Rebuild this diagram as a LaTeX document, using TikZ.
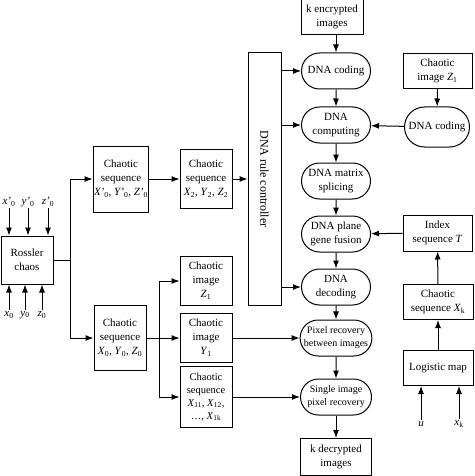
\documentclass[tikz,border=0pt]{standalone}
\usepackage{fontspec}
\setmainfont{Liberation Serif}
\usetikzlibrary{arrows.meta,shapes.misc}
\newcommand{\cv}[2]{\textit{#1}\textsubscript{#2}}
\begin{document}
\begin{tikzpicture}[x=1pt,y=-1pt,line width=1pt,
    font=\fontsize{11}{14}\selectfont]
  \useasboundingbox (0,0) rectangle (474,476);

  % plain boxes
  \begin{scope}[every node/.style={draw, align=center, inner sep=1pt}]
    \node[minimum width=52, minimum height=48] (ross) at (27,260) {Rossler\\chaos};
    \node[minimum width=52, minimum height=66] (seqA) at (121,179) {Chaotic\\sequence\\\cv{X'}{0}, \cv{Y'}{0}, \cv{Z'}{0}};
    \node[minimum width=52, minimum height=59] (seqA2) at (206,179) {Chaotic\\sequence\\\cv{X}{2}, \cv{Y}{2}, \cv{Z}{2}};
    \node[minimum width=33, minimum height=252, font=\fontsize{12}{14}\selectfont] (ctrl) at (264.5,179) {\rotatebox{-90}{DNA rule controller}};
    \node[minimum width=52, minimum height=65] (seqB) at (120,338) {Chaotic\\sequence\\\cv{X}{0}, \cv{Y}{0}, \cv{Z}{0}};
    \node[minimum width=52, minimum height=49] (imgZ) at (206,281) {Chaotic\\image\\\cv{Z}{1}};
    \node[minimum width=52, minimum height=49] (imgY) at (206,338) {Chaotic\\image\\\cv{Y}{1}};
    \node[minimum width=52, minimum height=61, font=\fontsize{10.5}{13}\selectfont] (seqX) at (206,397) {Chaotic\\sequence\\\cv{X}{11}, \cv{X}{12},\\\dots, \cv{X}{1k}};
    \node[minimum width=62, minimum height=35] (enc) at (332,17) {k encrypted\\images};
    \node[minimum width=71, minimum height=37] (dec) at (336,457) {k decrypted\\images};
    \node[minimum width=69, minimum height=35] (imgZr) at (437.5,71) {Chaotic\\image \cv{Z}{1}};
    \node[minimum width=69, minimum height=36] (idx) at (437.5,233) {Index\\sequence \textit{T}};
    \node[minimum width=70, minimum height=35] (seqXk) at (438,302) {Chaotic\\sequence \cv{X}{k}};
    \node[minimum width=70, minimum height=35] (logm) at (438,368) {Logistic map};
  \end{scope}

  % rounded steps
  \begin{scope}[every node/.style={draw, align=center, inner sep=1pt,
      rounded rectangle, minimum width=71, minimum height=36}]
    \node (dc1) at (336,71) {DNA coding};
    \node (dcomp) at (336,125) {DNA\\computing};
    \node (dms) at (336,181) {DNA matrix\\splicing};
    \node (dpf) at (336,234) {DNA plane\\gene fusion};
    \node (ddec) at (336,287) {DNA\\decoding};
    \node[font=\fontsize{10}{13}\selectfont, inner xsep=0pt] (pix) at (336,338) {Pixel recovery\\between images};
    \node[font=\fontsize{10}{13}\selectfont, inner xsep=0pt] (single) at (336,397) {Single image\\pixel recovery};
    \node[minimum width=67, minimum height=40] (dcr) at (437,127) {DNA coding};
  \end{scope}

  % inputs
  \begin{scope}[every node/.style={inner sep=1pt}]
    \node (lx1) at (9,202) {\cv{x'}{0}};
    \node (ly1) at (28,202) {\cv{y'}{0}};
    \node (lz1) at (48,202) {\cv{z'}{0}};
    \node (lx0) at (9,315) {\cv{x}{0}};
    \node (ly0) at (25,315) {\cv{y}{0}};
    \node (lz0) at (42,315) {\cv{z}{0}};
    \node (lu) at (421,424) {\textit{u}};
    \node (lxk) at (459,424) {\cv{x}{k}};
  \end{scope}

  \coordinate (br1) at (70,260);
  \coordinate (br2) at (159,338);

  \begin{scope}[every edge/.style={draw, -{Latex[length=8pt,width=6pt]}}]
    \path (lx1) edge (lx1 |- ross.north);
    \path (ly1) edge (ly1 |- ross.north);
    \path (lz1) edge (lz1 |- ross.north);
    \path (lx0) edge (lx0 |- ross.south);
    \path (ly0) edge (ly0 |- ross.south);
    \path (lz0) edge (lz0 |- ross.south);
    \draw (ross) -- (br1);
    \path (br1 |- seqA) edge (seqA);
    \path (br1 |- seqB) edge (seqB);
    \draw (br1 |- seqA) -- (br1 |- seqB);
    \path (seqA) edge (seqA2);
    \path (seqA2) edge (seqA2 -| ctrl.west);
    \draw (seqB) -- (br2);
    \draw (br2 |- imgZ) -- (br2 |- seqX);
    \path (br2 |- imgZ) edge (imgZ);
    \path (br2) edge (imgY);
    \path (br2 |- seqX) edge (seqX);
    \path (ctrl.east |- dc1) edge (dc1);
    \path (ctrl.east |- dcomp) edge (dcomp);
    \path (ctrl.east |- ddec) edge (ddec);
    \path (enc.south -| dc1) edge (dc1);
    \path (dc1) edge (dcomp);
    \path (dcomp) edge (dms);
    \path (dms) edge (dpf);
    \path (dpf) edge (ddec);
    \path (ddec) edge (pix);
    \path (pix) edge (single);
    \path (single) edge (dec);
    \path (imgY) edge (pix);
    \path (seqX) edge (single);
    \path (imgZr) edge (dcr);
    \path (dcr) edge (dcomp);
    \path (idx) edge (dpf);
    \path (seqXk) edge (idx);
    \path (logm) edge (seqXk);
    \path (lu) edge (lu |- logm.south);
    \path (lxk) edge (lxk |- logm.south);
  \end{scope}
\end{tikzpicture}
\end{document}
